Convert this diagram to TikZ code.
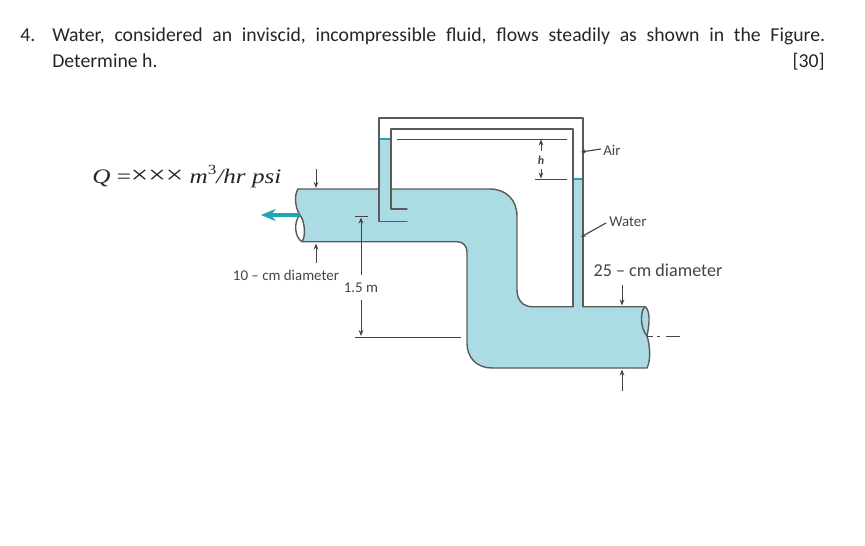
\documentclass[tikz,border=0pt]{standalone}
\usepackage{fontspec}
\setmainfont{Carlito}
\newfontfamily\qserif[FakeStretch=1.22]{Liberation Serif}
\usetikzlibrary{arrows.meta}
\definecolor{water}{HTML}{ABDCE4}
\definecolor{wall}{HTML}{5A5A5A}
\definecolor{teal}{HTML}{1FA5B8}
\definecolor{ink}{HTML}{444444}
\tikzset{
  wallline/.style={draw=wall,line width=1.05pt,line cap=round,line join=round},
  thin dim/.style={draw=ink,line width=0.72pt},
  dimarrow/.style={thin dim,-{Stealth[length=4.5pt,width=3.5pt]}},
  leader/.style={draw=ink,line width=0.85pt,-{Stealth[length=3.5pt,width=3pt]}},
  body/.style={anchor=base west,inner sep=0pt,font=\fontsize{14.8pt}{16pt}\selectfont,text=black!85},
  small/.style={inner sep=0pt,text=ink,font=\fontsize{11.2pt}{13pt}\selectfont},
  big/.style={inner sep=0pt,text=ink,font=\fontsize{13.6pt}{15pt}\selectfont}
}
\begin{document}
\begin{tikzpicture}[x=0.75pt,y=-0.75pt]
\useasboundingbox (0,0) rectangle (865,546);
\fill[white] (0,0) rectangle (865,546);
% question text
\node[body] (qnum) at (20,41) {4.};
\node[body,text width=773*0.75pt,align=justify,anchor=base west] (qline) at (52,41)
  {Water,\hfill considered\hfill an\hfill inviscid,\hfill incompressible\hfill fluid,\hfill flows\hfill steadily\hfill as\hfill shown\hfill in\hfill the\hfill Figure.};
\node[body] (qdet) at (52,67) {Determine h.};
\node[body,anchor=base east] (qmark) at (825,67) {[30]};
% water
\fill[water] (298,189) -- (379,189) -- (379,139) -- (391,139) -- (391,189) -- (490,189)
  .. controls (506,189) and (517,200) .. (517,216) -- (517,290)
  .. controls (517,300) and (523,306.7) .. (532,306.7) -- (573,306.7) -- (573,179) -- (583,179) -- (583,306.7) -- (645,306.7)
  .. controls (649,308) and (650,320) .. (647,336)
  .. controls (650,345) and (651,360) .. (647,368)
  -- (492,368) .. controls (477,368) and (467,358) .. (467,343) -- (467,252)
  .. controls (467,246) and (463,241.7) .. (457,241.7) -- (302,241.7)
  .. controls (306,236) and (305,222) .. (300,215)
  .. controls (295,208) and (294,195) .. (298,189) -- cycle;
% water levels
\draw[teal,line width=0.9pt] (379,139) -- (391,139);
\draw[teal,line width=0.9pt] (573,179) -- (583,179);
% pipe walls
\draw[wallline] (379,189) -- (298,189)
  .. controls (294,195) and (295,208) .. (300,215)
  .. controls (293,222) and (295,238) .. (302,241.7)
  -- (457,241.7) .. controls (463,241.7) and (467,246) .. (467,252) -- (467,343)
  .. controls (467,358) and (477,368) .. (492,368) -- (647,368)
  .. controls (651,360) and (650,345) .. (647,336)
  .. controls (650,322) and (650,310) .. (645,306.7) -- (583,306.7);
\draw[wallline] (300,215) .. controls (305,222) and (306,236) .. (302,241.7);
\draw[wallline] (645,306.7) .. controls (640,311) and (640,328) .. (647,336);
\draw[wallline] (391,189) -- (490,189)
  .. controls (506,189) and (517,200) .. (517,216) -- (517,290)
  .. controls (517,300) and (523,306.7) .. (532,306.7) -- (573,306.7);
% pitot tube walls
\draw[wallline] (407,221.7) -- (379,221.7) -- (379,118) -- (583,118) -- (583,306.7);
\draw[wallline] (407,209) -- (391,209) -- (391,129) -- (573,129) -- (573,306.7);
% outflow arrow
\coordinate (outA) at (300,215);
\coordinate (outB) at (261,215);
\draw[teal,line width=2.5pt,-{Stealth[length=11pt,width=9pt]}] (outA) -- (outB);
% h dimension
\coordinate (hTopL) at (397,139); \coordinate (hTopR) at (567,139);
\coordinate (hBotL) at (535,179); \coordinate (hBotR) at (567,179);
\draw[thin dim] (hTopL) -- (hTopR);
\draw[thin dim] (hBotL) -- (hBotR);
\node[inner sep=0pt,text=ink,font=\fontsize{9pt}{10pt}\selectfont\bfseries\itshape] (hlab) at (541,160) {h};
\draw[dimarrow] (541,151) -- (541,139.5);
\draw[dimarrow] (541,169) -- (541,178.5);
% diameter arrows
\coordinate (dA1) at (316,169); \coordinate (dA2) at (316,188);
\coordinate (dB1) at (316,263); \coordinate (dB2) at (316,243.5);
\coordinate (dC1) at (622,285); \coordinate (dC2) at (622,305.5);
\coordinate (dD1) at (622,391); \coordinate (dD2) at (622,369.5);
\draw[dimarrow] (dA1) -- (dA2);
\draw[dimarrow] (dB1) -- (dB2);
\draw[dimarrow] (dC1) -- (dC2);
\draw[dimarrow] (dD1) -- (dD2);
% 1.5 m dimension
\coordinate (mTopL) at (355,216.7); \coordinate (mTopR) at (368,216.7);
\coordinate (mBotL) at (355,337); \coordinate (mBotR) at (461,337);
\node[small] (mlab) at (361,288) {1.5 m};
\draw[thin dim] (mTopL) -- (mTopR);
\draw[thin dim] (mBotL) -- (mBotR);
\draw[dimarrow] (361,275) -- (361,217.5);
\draw[dimarrow] (361,300) -- (361,336);
% centre line
\coordinate (c1) at (647,336.7); \coordinate (c2) at (653,336.7);
\coordinate (c3) at (657,336.7); \coordinate (c4) at (660,336.7);
\coordinate (c5) at (666,336.7); \coordinate (c6) at (680,336.7);
\draw[thin dim] (c1) -- (c2);
\draw[thin dim] (c3) -- (c4);
\draw[thin dim] (c5) -- (c6);
% labels
\node[small,anchor=west] (air) at (603,150) {Air};
\draw[leader] (air.west) ++(-2,-1) -- (581,152);
\node[small,anchor=west] (wat) at (609,222) {Water};
\draw[leader] (wat.west) ++(-3,1) -- (581,237);
\node[small] (d10) at (286,275) {10 -- cm diameter};
\node[big] (d25) at (658,270) {25 -- cm diameter};
\node[inner sep=0pt,anchor=base west,text=black!85,font=\qserif\fontsize{15.5pt}{16pt}\selectfont] (Q) at (92,183)
  {\textit{Q} ={\fontsize{19pt}{16pt}\selectfont ×××} \textit{m}\raisebox{0.4em}{\fontsize{10.5pt}{11pt}\selectfont 3}\textit{/hr psi}};
\end{tikzpicture}
\end{document}
